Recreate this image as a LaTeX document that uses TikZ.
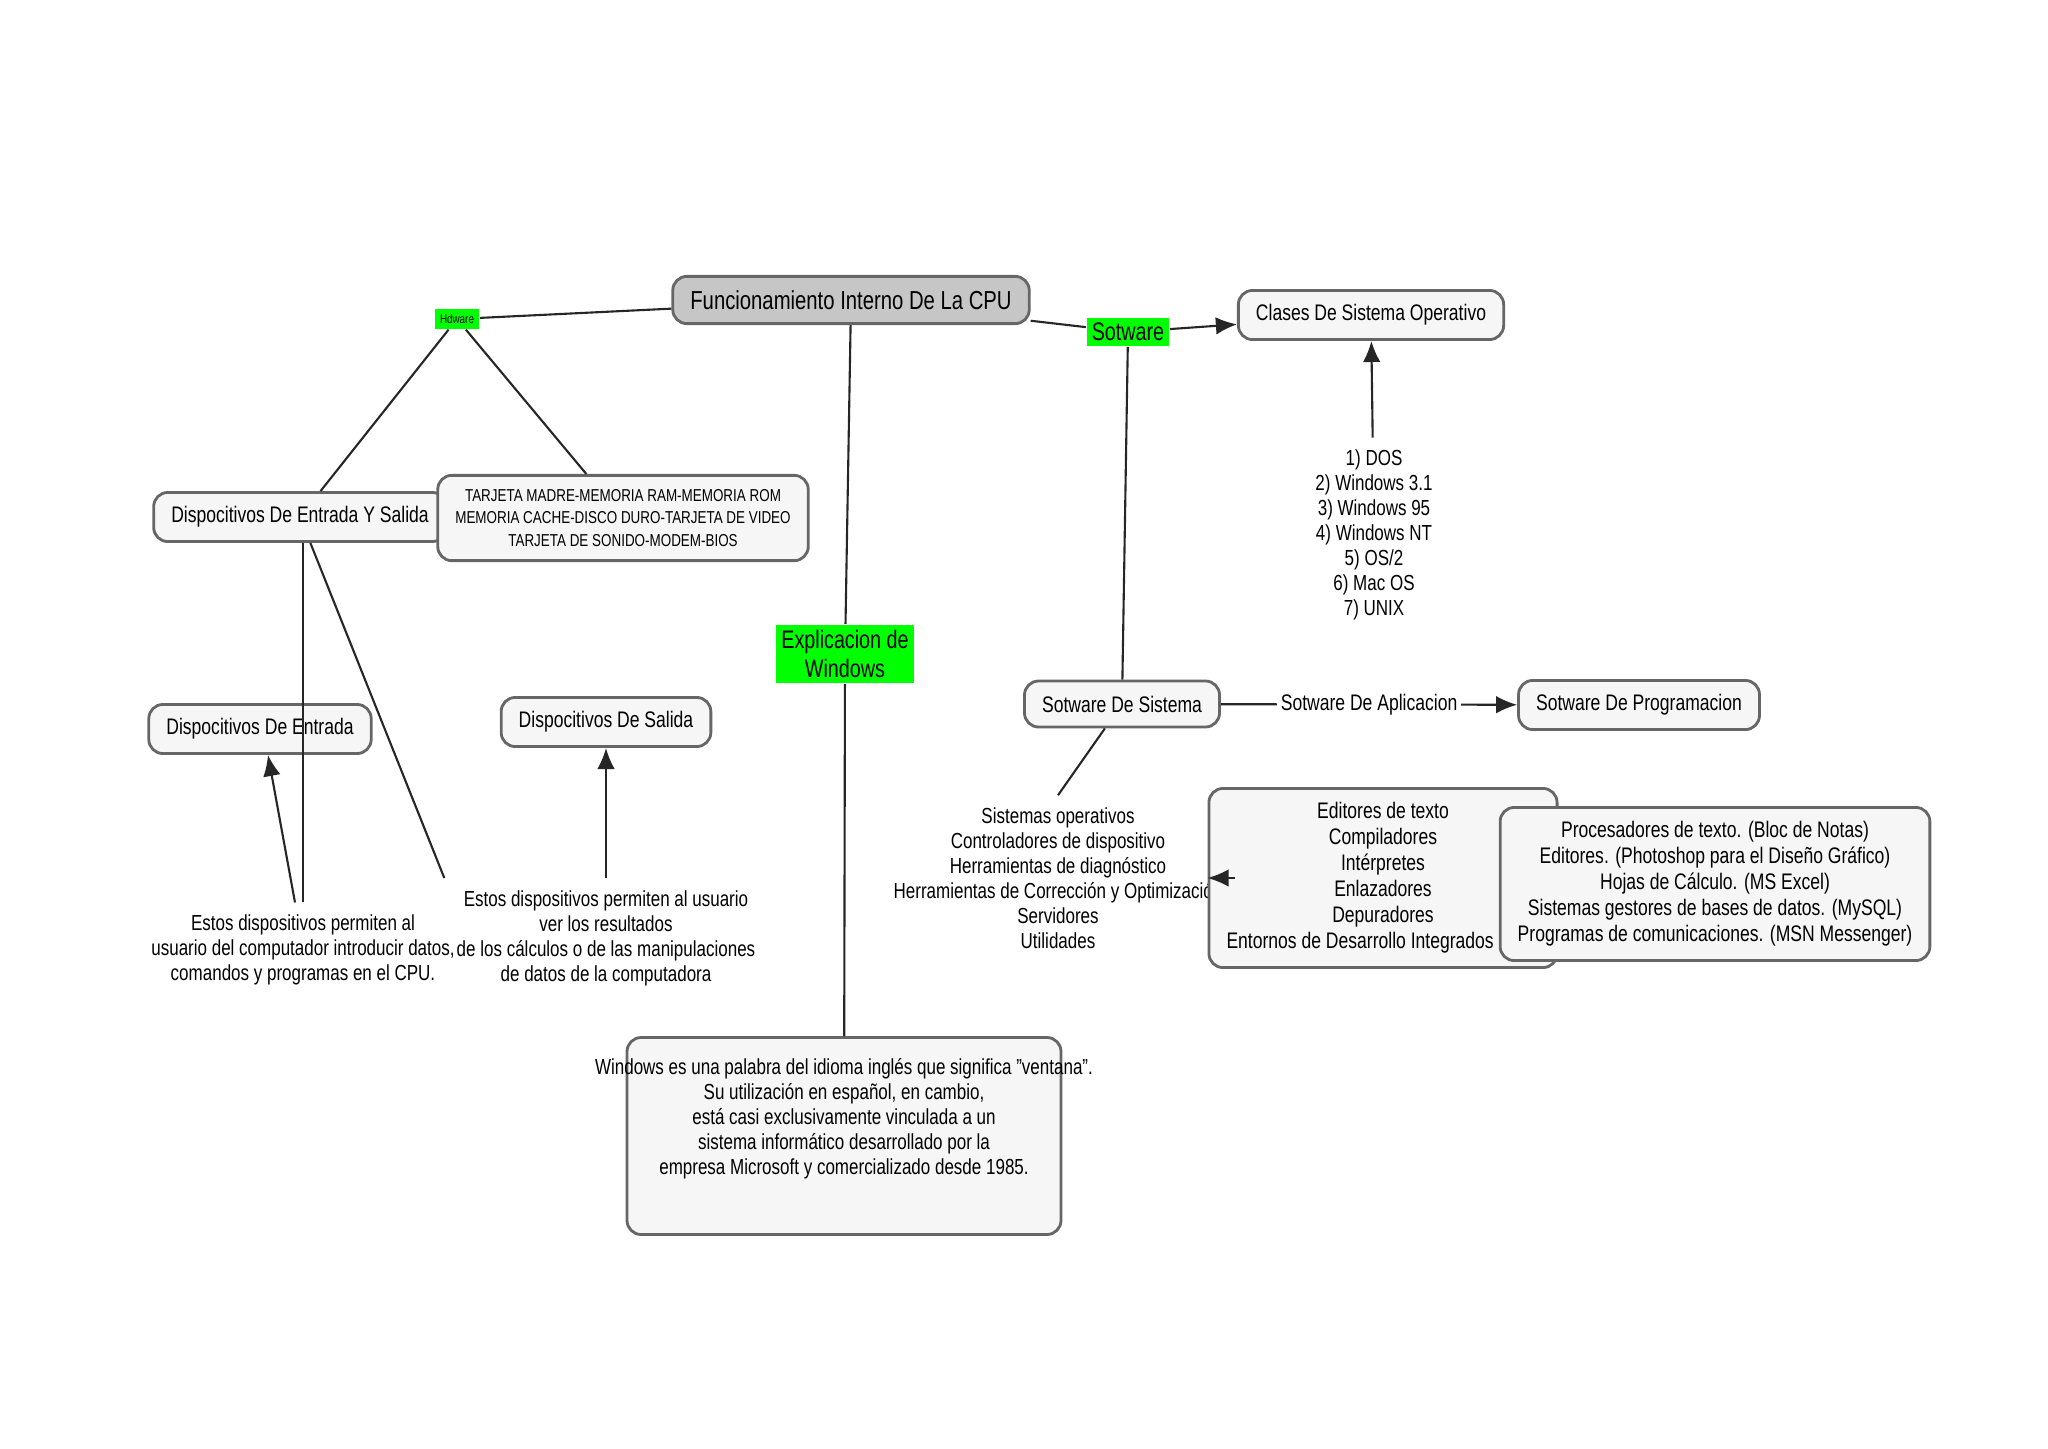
\documentclass[tikz,border=0pt]{standalone}
\usepackage{fontspec}
\setmainfont{Liberation Sans}[FakeStretch=0.78]
\usetikzlibrary{arrows.meta}

\tikzset{
	box/.style = {draw=gray!80!black, rounded corners=4pt, fill=gray!7, line width=0.8pt,
		inner xsep=5pt, inner ysep=4pt, align=center, font=\fontsize{6.4}{7.4}\selectfont},
	mainbox/.style = {box, fill=gray!45, font=\fontsize{7.4}{8.6}\selectfont},
	tag/.style = {fill=green, inner sep=1.5pt, align=center, font=\fontsize{6.4}{7.4}\selectfont},
	txt/.style = {align=center, font=\fontsize{6.2}{7.1}\selectfont},
	link/.style = {draw=gray!30!black, line width=0.6pt},
	arr/.style = {link, -{Latex[length=6pt,width=5pt]}}
}

\begin{document}
\begin{tikzpicture}[x=0.1mm, y=-0.1mm]
	\useasboundingbox (0,0) rectangle (2048,1448);
	
	% center and first level
	\node[mainbox, minimum width=27mm, minimum height=4.4mm] (cpu) at (851,300) {Funcionamiento Interno De La CPU};
	\node[tag, font=\fontsize{3.6}{4}\selectfont] (hard) at (457,319) {Hdware};
	\node[tag, font=\fontsize{7.2}{8}\selectfont] (soft) at (1128,332) {Sotware};
	\node[tag, font=\fontsize{7.2}{8.4}\selectfont, minimum width=10.5mm, minimum height=5.1mm] (expl) at (845,654) {Explicacion de\\Windows};
	
	% hardware branch
	\node[box, minimum width=21.7mm, minimum height=4.6mm] (es) at (300,517) {Dispocitivos De Entrada Y Salida};
	\node[box, minimum width=28.3mm, minimum height=8.1mm, font=\fontsize{4.9}{6.4}\selectfont] (tarj) at (623,518)
		{TARJETA MADRE-MEMORIA RAM-MEMORIA ROM\\MEMORIA CACHE-DISCO DURO-TARJETA DE VIDEO\\TARJETA DE SONIDO-MODEM-BIOS};
	\node[box, minimum width=16.5mm, minimum height=4.6mm] (ent) at (260,729) {Dispocitivos De Entrada};
	\node[box, minimum width=15.3mm, minimum height=4.6mm] (sal) at (606,722) {Dispocitivos De Salida};
	\node[txt] (tent) at (303,950) {Estos dispositivos permiten al\\usuario del computador introducir datos,\\comandos y programas en el CPU.};
	\node[txt] (tsal) at (606,938) {Estos dispositivos permiten al usuario\\ver los resultados\\de los c\'alculos o de las manipulaciones\\de datos de la computadora};
	
	% windows
	\node[box, minimum width=43.4mm, minimum height=19.7mm] (win) at (844,1136) {};
	\node[txt, anchor=north] (twin) at (844,1046) {Windows es una palabra del idioma ingl\'es que significa "ventana".\\Su utilizaci\'on en espa\~nol, en cambio,\\est\'a casi exclusivamente vinculada a un\\sistema inform\'atico desarrollado por la\\empresa Microsoft y comercializado desde 1985.};
	
	% software branch
	\node[box, minimum width=19.6mm, minimum height=4.8mm] (clases) at (1371,315) {Clases De Sistema Operativo};
	\node[txt] (os) at (1374,535) {1) DOS\\2) Windows 3.1\\3) Windows 95\\4) Windows NT\\5) OS/2\\6) Mac OS\\7) UNIX};
	\node[box, minimum width=14.4mm, minimum height=4.6mm] (sist) at (1122,704) {Sotware De Sistema};
	\node[box, minimum width=17.8mm, minimum height=4.6mm] (prog) at (1639,705) {Sotware De Programacion};
	\node[txt] (lsist) at (1058,878) {Sistemas operativos\\Controladores de dispositivo\\Herramientas de diagn\'ostico\\Herramientas de Correcci\'on y Optimizaci\'on\\Servidores\\Utilidades};
	\node[box, minimum width=26.6mm, minimum height=17.4mm] (edit) at (1383,878) {Editores de texto\\Compiladores\\Int\'erpretes\\Enlazadores\\Depuradores\\Entornos de Desarrollo Integrados (IDE)};
	\node[box, minimum width=32.3mm, minimum height=14.8mm] (proc) at (1715,884) {Procesadores de texto. (Bloc de Notas)\\Editores. (Photoshop para el Dise\~no Gr\'afico)\\Hojas de C\'alculo. (MS Excel)\\Sistemas gestores de bases de datos. (MySQL)\\Programas de comunicaciones. (MSN Messenger)};
	
	% connectors
	\draw[link] (cpu) -- (hard);
	\draw[link] (cpu) -- (soft);
	\draw[arr] (soft) -- (clases);
	\draw[arr] (os) -- (clases);
	\draw[link] (hard) -- (es);
	\draw[link] (hard) -- (tarj);
	\draw[link] (cpu) -- (expl);
	\draw[link] (expl) -- (win);
	\draw[link] (es.south -| tent.north) -- (tent.north);
	\draw[arr] (tent.north) ++(-8,0) coordinate (tentb) (tentb) -- (ent.south -| 268,0);
	\draw[link] (es) -- (tsal.north west);
	\draw[arr] (tsal.north) -- (sal);
	\draw[link] (soft) -- (sist);
	\draw[link] (sist) -- (lsist.north);
	\draw[arr] (lsist) -- (edit);
	\draw[arr] (sist) -- node[fill=white, inner sep=1pt, font=\fontsize{6.4}{7.4}\selectfont] {Sotware De Aplicacion} (prog);
\end{tikzpicture}
\end{document}
